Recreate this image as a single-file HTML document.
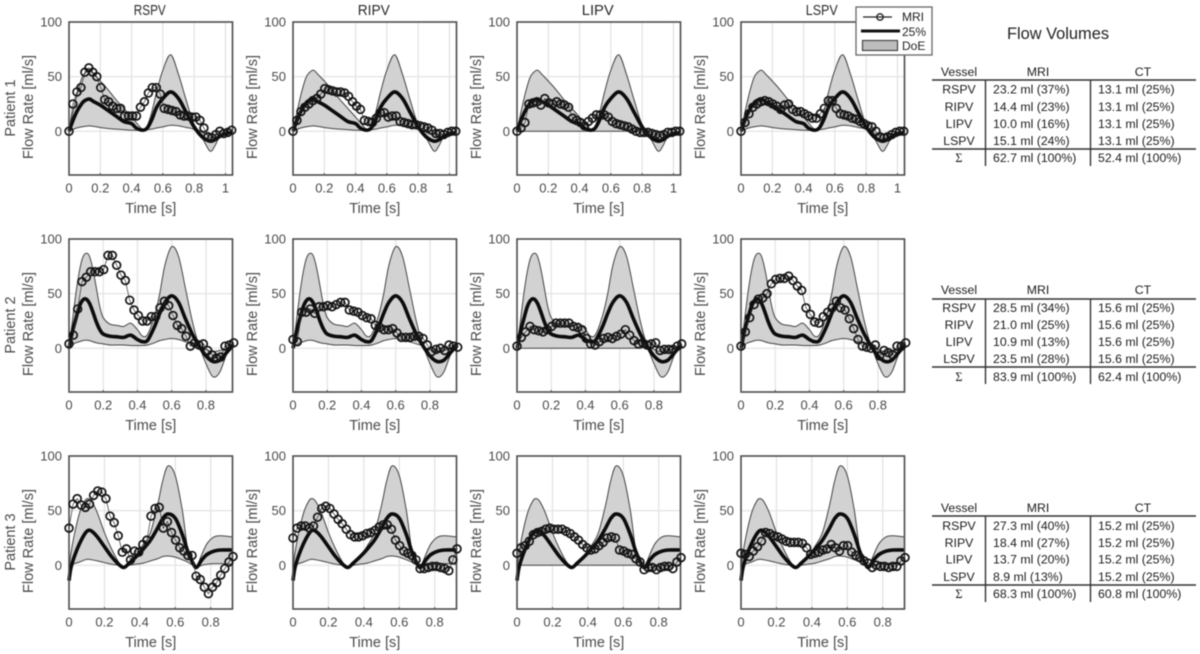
<!DOCTYPE html>
<html lang="en">
<head>
<meta charset="utf-8">
<title>Flow rate charts and flow volumes</title>
<style>
html,body{margin:0;padding:0;background:#fff;width:1200px;height:654px;overflow:hidden}
svg{display:block;filter:blur(0.5px);font-family:"Liberation Sans",sans-serif}
.tbl{font-size:12.3px;fill:#1c1c1c}
.mid{text-anchor:middle}
.rule{stroke:#333;stroke-width:1.4}
</style>
</head>
<body>
<svg id="figure" width="1200" height="654" viewBox="0 0 1200 654" xmlns="http://www.w3.org/2000/svg">
  <g id="plots"></g>

  <g>
    <rect x="856" y="7" width="76" height="48" fill="#fff" stroke="#666" stroke-width="1.3"/>
    <line x1="863" y1="17" x2="892" y2="17" stroke="#222" stroke-width="1.2"/>
    <circle cx="880" cy="17" r="3.2" fill="none" stroke="#222" stroke-width="1.4"/>
    <text x="902" y="21" font-size="12" fill="#222">MRI</text>
    <line x1="861" y1="31" x2="900" y2="31" stroke="#111" stroke-width="3"/>
    <text x="902" y="36" font-size="12" fill="#222">25%</text>
    <rect x="862.5" y="40.5" width="35" height="10" fill="#bdbdbd" stroke="#444" stroke-width="1.2"/>
    <text x="902" y="50" font-size="12" fill="#222">DoE</text>
  </g>

  <text x="1058" y="39" font-size="16.4" fill="#222" class="mid">Flow Volumes</text>

  <g>
    <text class="tbl mid" x="959" y="76">Vessel</text>
    <text class="tbl mid" x="1038" y="76">MRI</text>
    <text class="tbl mid" x="1143" y="76">CT</text>
    <line class="rule" x1="932" y1="80" x2="1196" y2="80"/>
    <line class="rule" x1="932" y1="149" x2="1196" y2="149"/>
    <line class="rule" x1="985.5" y1="80" x2="985.5" y2="166"/>
    <line class="rule" x1="1090.5" y1="80" x2="1090.5" y2="166"/>
    <text class="tbl mid" x="959" y="93.500">RSPV</text>
    <text class="tbl" x="993" y="93.500">23.2 ml (37%)</text>
    <text class="tbl" x="1098" y="93.500">13.1 ml (25%)</text>
    <text class="tbl mid" x="959" y="111">RIPV</text>
    <text class="tbl" x="993" y="111">14.4 ml (23%)</text>
    <text class="tbl" x="1098" y="111">13.1 ml (25%)</text>
    <text class="tbl mid" x="959" y="128">LIPV</text>
    <text class="tbl" x="993" y="128">10.0 ml (16%)</text>
    <text class="tbl" x="1098" y="128">13.1 ml (25%)</text>
    <text class="tbl mid" x="959" y="145">LSPV</text>
    <text class="tbl" x="993" y="145">15.1 ml (24%)</text>
    <text class="tbl" x="1098" y="145">13.1 ml (25%)</text>
    <text class="tbl mid" style="font-family:'Liberation Serif',serif" x="959" y="162">Σ</text>
    <text class="tbl" x="993" y="162">62.7 ml (100%)</text>
    <text class="tbl" x="1098" y="162">52.4 ml (100%)</text>
  </g>

  <g>
    <text class="tbl mid" x="959" y="294">Vessel</text>
    <text class="tbl mid" x="1038" y="294">MRI</text>
    <text class="tbl mid" x="1143" y="294">CT</text>
    <line class="rule" x1="932" y1="299" x2="1196" y2="299"/>
    <line class="rule" x1="932" y1="367" x2="1196" y2="367"/>
    <line class="rule" x1="985.5" y1="299" x2="985.5" y2="384"/>
    <line class="rule" x1="1090.5" y1="299" x2="1090.5" y2="384"/>
    <text class="tbl mid" x="959" y="312">RSPV</text>
    <text class="tbl" x="993" y="312">28.5 ml (34%)</text>
    <text class="tbl" x="1098" y="312">15.6 ml (25%)</text>
    <text class="tbl mid" x="959" y="329">RIPV</text>
    <text class="tbl" x="993" y="329">21.0 ml (25%)</text>
    <text class="tbl" x="1098" y="329">15.6 ml (25%)</text>
    <text class="tbl mid" x="959" y="346">LIPV</text>
    <text class="tbl" x="993" y="346">10.9 ml (13%)</text>
    <text class="tbl" x="1098" y="346">15.6 ml (25%)</text>
    <text class="tbl mid" x="959" y="363">LSPV</text>
    <text class="tbl" x="993" y="363">23.5 ml (28%)</text>
    <text class="tbl" x="1098" y="363">15.6 ml (25%)</text>
    <text class="tbl mid" style="font-family:'Liberation Serif',serif" x="959" y="381">Σ</text>
    <text class="tbl" x="993" y="381">83.9 ml (100%)</text>
    <text class="tbl" x="1098" y="381">62.4 ml (100%)</text>
  </g>

  <g>
    <text class="tbl mid" x="959" y="512">Vessel</text>
    <text class="tbl mid" x="1038" y="512">MRI</text>
    <text class="tbl mid" x="1143" y="512">CT</text>
    <line class="rule" x1="932" y1="516" x2="1196" y2="516"/>
    <line class="rule" x1="932" y1="585" x2="1196" y2="585"/>
    <line class="rule" x1="985.5" y1="516" x2="985.5" y2="602"/>
    <line class="rule" x1="1090.5" y1="516" x2="1090.5" y2="602"/>
    <text class="tbl mid" x="959" y="530">RSPV</text>
    <text class="tbl" x="993" y="530">27.3 ml (40%)</text>
    <text class="tbl" x="1098" y="530">15.2 ml (25%)</text>
    <text class="tbl mid" x="959" y="547">RIPV</text>
    <text class="tbl" x="993" y="547">18.4 ml (27%)</text>
    <text class="tbl" x="1098" y="547">15.2 ml (25%)</text>
    <text class="tbl mid" x="959" y="563.500">LIPV</text>
    <text class="tbl" x="993" y="563.500">13.7 ml (20%)</text>
    <text class="tbl" x="1098" y="563.500">15.2 ml (25%)</text>
    <text class="tbl mid" x="959" y="581">LSPV</text>
    <text class="tbl" x="993" y="581">8.9 ml (13%)</text>
    <text class="tbl" x="1098" y="581">15.2 ml (25%)</text>
    <text class="tbl mid" style="font-family:'Liberation Serif',serif" x="959" y="598">Σ</text>
    <text class="tbl" x="993" y="598">68.3 ml (100%)</text>
    <text class="tbl" x="1098" y="598">60.8 ml (100%)</text>
  </g>
</svg>

<script>
// ---- categories and tick labels ----
const vessels = ["RSPV", "RIPV", "LIPV", "LSPV"];
const patients = ["Patient 1", "Patient 2", "Patient 3"];
const yTicks = [0, 50, 100];
const xTicksP1 = [0, 0.2, 0.4, 0.6, 0.8, 1];
const xTicksP2 = [0, 0.2, 0.4, 0.6, 0.8];
const xTicksP3 = [0, 0.2, 0.4, 0.6, 0.8];
const xMaxByPatient = [1.045, 0.955, 0.923];
const mriEndByPatient = [1.04, 0.962, 0.926];

// ---- patient 1 simulated curves ----
const timeP1 = [0,.02,.05,.08,.1,.13,.16,.2,.25,.3,.35,.4,.43,.47,.5,.53,.56,.6,.65,.7,.75,.8,.85,.9,.93,.96,1,1.045];
const highP1 = [0,14,33,48,53,56,52,46,38,29,21,13,8,2,5,18,36,56,70,52,28,6,-1,-3,-3,-3,-2,-1];
const medP1  = [0,8,18,25,28,29.5,27,24,19,14,9,7,3,1,3,11,22,30,36,30,17,4,-5,-9,-8,-5,-2,-1];
const lowBumpP1 = [0,1.5,3,4,4.5,5,4.5,3.5,2.5,2,1.5,1,1,1,1.5,2,3,4,5.5,5,3.5,1.5,-6,-18,-14,-6,-3,-1];
const lowFlatP1 = [0,0,0,0,0,0,0,0,0,0,0,0,0,0,0,0,0,0,0,0,0,0,-6,-18,-14,-6,-3,-1];

// ---- patient 2 simulated curves ----
const timeP2 = [0,.02,.04,.06,.08,.1,.12,.14,.16,.18,.2,.24,.28,.32,.36,.4,.43,.46,.5,.53,.56,.6,.64,.68,.72,.76,.8,.84,.88,.92,.96];
const highP2 = [0,25,50,70,83,87,84,72,55,38,28,22,21,20,23,17,11,13,30,50,76,93,84,55,25,3,-1,-3,-2,0,5];
const medP2  = [0,15,27,38,44,45,41,33,24,17,13,11,10.5,10,12,8,6,7.5,20,32,42,48,42,27,13,2,-7,-12,-11,-4,3];
const lowBumpP2 = [0,3,5,6,7,7.5,7,6,5,4.5,4,3,3,3,2.5,2.5,2.5,3,5,7,8,9,8,6,4,1,-14,-26,-22,-6,3];
const lowFlatP2 = [0,0,0,0,0,0,0,0,0,0,0,0,0,0,0,0,0,0,0,0,0,0,0,0,0,0,-14,-26,-22,-6,3];

// ---- patient 3 simulated curves ----
const timeP3 = [0,.01,.03,.06,.09,.11,.13,.16,.2,.24,.28,.31,.34,.38,.42,.46,.5,.53,.56,.6,.64,.67,.7,.72,.75,.78,.82,.86,.92];
const highP3 = [-5,10,28,48,59,61,58,48,30,15,3,-2,2,8,18,30,55,78,91,82,50,15,3,-1,10,20,26,27,26];
const medP3  = [-14,-3,8,20,29,32,31,26,17,8,1,-2,2,8,15,23,34,43,47,43,28,13,2,-2,5,10,13,14,14];
const lowBumpP3 = [-15,0,1.5,3,5,5.5,5,4,2.5,1,0,-2,0,1,2,4,6,8,8.5,7.5,5,3,0,-2,0,1,1.5,1.5,1];
const lowFlatP3 = [-15,0,0,0,0,0,0,0,0,0,0,-2,0,0,0,0,0,0,0,0,0,0,0,-2,0,0,0,0,0];

// ---- MRI series, uniformly sampled over the cycle ----
const mriP1Rspv = [0,25,36,40,54,58,54,50,40,29,27,23,21,21,14,14,14,14,22,27,35,40,40,34,21,20,19,18,15,14,14,13,13,10,3,-5,-6,-3,0,-2,-1,1];
const mriP1Ripv = [0,10,18,22,25,28,30,34,39,38,37,36,36,35,32,27,23,20,10,9,8,12,17,17,13,14,14,9,8,7,6,6,5,4,3,1,-2,-2,-3,-1,0,0];
const mriP1Lipv = [0,3,8,25,26,27,24,30,26,25,27,25,24,22,12,10,8,5,9,12,15,15,15,13,9,7,6,5,4,2,0,-1,-1,-1,-2,-3,-4,-3,-1,-1,0,0];
const mriP1Lspv = [0,8,16,22,25,27,28,27,25,23,20,24,25,20,18,18,16,14,12,12,16,21,28,28,21,16,15,14,12,11,9,7,5,4,0,-5,-6,-5,-3,-1,0,0];
const mriP2Rspv = [4,12,36,61,65,70,70,70,72,85,85,76,67,62,44,35,30,25,25,29,29,37,43,39,30,21,18,11,2,5,3,4,-2,-6,-9,-8,2,3,5];
const mriP2Ripv = [8,6,33,33,36,32,38,38,39,38,40,42,42,35,34,33,30,28,27,21,19,17,17,18,14,10,10,10,11,11,9,3,-3,-1,0,-2,3,2,1];
const mriP2Lipv = [2,10,15,20,17,16,15,17,20,23,23,23,23,20,19,17,9,4,3,6,9,10,9,11,13,17,12,7,4,5,3,4,5,-2,-1,-1,-1,2,4];
const mriP2Lspv = [2,15,28,40,45,46,50,59,63,64,64,66,62,57,53,37,31,24,23,29,33,37,43,37,35,27,18,8,2,1,0,3,-7,-2,-4,-6,2,2,5];
const mriP3Rspv = [34,56,61,55,53,56,64,68,67,61,45,39,27,12,15,5,13,12,19,23,45,52,53,34,40,30,23,16,13,9,9,-10,-13,-20,-26,-20,-16,-9,-3,3,8];
const mriP3Ripv = [25,34,36,36,34,36,44,52,54,52,47,42,38,33,28,26,26,27,29,30,32,35,37,37,33,23,18,13,11,9,5,-3,-3,-2,-1,-1,-2,-3,-5,5,15];
const mriP3Lipv = [11,16,18,22,28,30,31,33,34,33,33,33,31,29,26,23,19,16,14,15,18,21,25,26,25,14,13,11,10,6,3,-4,-2,-2,-4,-2,-1,-1,-3,3,7];
const mriP3Lspv = [11,10,8,13,17,22,30,29,27,26,24,22,21,21,21,20,16,10,11,12,14,15,19,16,13,18,18,12,9,7,4,2,-2,0,-1,-1,-2,-1,-1,4,7];

// ---- series groupings ----
const timeByPatient = [timeP1, timeP2, timeP3];
const highByPatient = [highP1, highP2, highP3];
const medByPatient = [medP1, medP2, medP3];
const lowByPatient = [
  [lowBumpP1, lowBumpP1, lowFlatP1, lowBumpP1],
  [lowBumpP2, lowBumpP2, lowFlatP2, lowBumpP2],
  [lowBumpP3, lowBumpP3, lowFlatP3, lowBumpP3]
];
const mriByPatient = [
  [mriP1Rspv, mriP1Ripv, mriP1Lipv, mriP1Lspv],
  [mriP2Rspv, mriP2Ripv, mriP2Lipv, mriP2Lspv],
  [mriP3Rspv, mriP3Ripv, mriP3Lipv, mriP3Lspv]
];
const xTicksByPatient = [xTicksP1, xTicksP2, xTicksP3];

// ---- layout ----
const NS = "http://www.w3.org/2000/svg";
const colLeft = [69, 293, 517, 741];
const rowTop = [22, 239, 456];
const plotW = 163.5, plotH = 153, yMin = -40, yMax = 100;
const root = document.getElementById("plots");

function make(parent, tag, attrs) {
  const el = document.createElementNS(NS, tag);
  for (const k in attrs) el.setAttribute(k, attrs[k]);
  parent.appendChild(el);
  return el;
}
function smooth(pts, cont) {
  let d = (cont ? "L" : "M") + pts[0][0].toFixed(2) + " " + pts[0][1].toFixed(2);
  for (let i = 0; i < pts.length - 1; i++) {
    const p0 = pts[Math.max(i - 1, 0)], p1 = pts[i], p2 = pts[i + 1], p3 = pts[Math.min(i + 2, pts.length - 1)];
    const c1x = p1[0] + (p2[0] - p0[0]) / 6, c1y = p1[1] + (p2[1] - p0[1]) / 6;
    const c2x = p2[0] - (p3[0] - p1[0]) / 6, c2y = p2[1] - (p3[1] - p1[1]) / 6;
    d += "C" + c1x.toFixed(2) + " " + c1y.toFixed(2) + " " + c2x.toFixed(2) + " " + c2y.toFixed(2) + " " + p2[0].toFixed(2) + " " + p2[1].toFixed(2);
  }
  return d;
}

patients.forEach(function (patient, r) {
  vessels.forEach(function (vessel, c) {
    const left = colLeft[c], top = rowTop[r], xMax = xMaxByPatient[r];
    const sx = function (t) { return left + t / xMax * plotW; };
    const sy = function (v) { return top + (yMax - v) / (yMax - yMin) * plotH; };
    const g = make(root, "g", {});
    
    

    // gridlines
    xTicksByPatient[r].forEach(function (t) {
      if (t > 0) {
        const gl = make(g, "line", { x1: sx(t), x2: sx(t), y1: top, y2: top + plotH, stroke: "#e4e4e4", "stroke-width": 1.3 });
        
        
      }
    });
    yTicks.forEach(function (v) {
      if (v < yMax) {
        const gl = make(g, "line", { x1: left, x2: left + plotW, y1: sy(v), y2: sy(v), stroke: "#e4e4e4", "stroke-width": 1.3 });
        
        
      }
    });

    const times = timeByPatient[r], high = highByPatient[r], med = medByPatient[r], low = lowByPatient[r][c];
    const highPts = times.map(function (t, i) { return [sx(t), sy(high[i])]; });
    const lowPts = times.map(function (t, i) { return [sx(t), sy(low[i])]; });
    const medPts = times.map(function (t, i) { return [sx(t), sy(med[i])]; });

    const band = make(g, "path", { d: smooth(highPts) + smooth(lowPts.slice().reverse(), true) + "Z", fill: "#d2d2d2", stroke: "none" });
    
    

    const highLine = make(g, "path", { d: smooth(highPts), fill: "none", stroke: "#444", "stroke-width": 1 });
    
    

    const lowLine = make(g, "path", { d: smooth(lowPts), fill: "none", stroke: "#444", "stroke-width": 1 });
    
    

    const medLine = make(g, "path", { d: smooth(medPts), fill: "none", stroke: "#0c0c0c", "stroke-width": 3.6, "stroke-linejoin": "round" });
    
    

    // axes box and ticks
    const box = make(g, "rect", { x: left, y: top, width: plotW, height: plotH, fill: "none", stroke: "#4c4c4c", "stroke-width": 1.6 });
    
    

    xTicksByPatient[r].forEach(function (t) {
      const lab = make(g, "text", { x: sx(t), y: top + plotH + 17.5, "font-size": 13, fill: "#4a4a4a", "text-anchor": "middle" });
      lab.textContent = String(t);
      
      
      const tk = make(g, "line", { x1: sx(t), x2: sx(t), y1: top + plotH, y2: top + plotH - 2, stroke: "#555", "stroke-width": 1 });
      
      
    });
    yTicks.forEach(function (v) {
      const lab = make(g, "text", { x: left - 7, y: sy(v) + 4.5, "font-size": 13, fill: "#4a4a4a", "text-anchor": "end" });
      lab.textContent = String(v);
      
      
    });

    // MRI series
    const mri = mriByPatient[r][c], end = mriEndByPatient[r];
    const mriPts = mri.map(function (v, i) { return [sx(i * end / (mri.length - 1)), sy(v)]; });
    const mriLine = make(g, "polyline", { points: mriPts.map(function (p) { return p[0].toFixed(2) + "," + p[1].toFixed(2); }).join(" "), fill: "none", stroke: "#333", "stroke-width": 0.7 });
    
    
    mriPts.forEach(function (p) {
      const dot = make(g, "circle", { cx: p[0], cy: p[1], r: 3.9, fill: "none", stroke: "#141414", "stroke-width": 1.7 });
      
      
    });

    // axis titles
    const xt = make(g, "text", { x: left + plotW / 2, y: top + plotH + 38, "font-size": 14.5, fill: "#4a4a4a", "text-anchor": "middle" });
    xt.textContent = "Time [s]";
    
    

    const yx = left - 36, yy = top + 85;
    const yt = make(g, "text", { x: yx, y: yy, "font-size": 14.5, fill: "#4a4a4a", "text-anchor": "middle", transform: "rotate(-90 " + yx + " " + yy + ")" });
    yt.textContent = "Flow Rate [ml/s]";
    
    

    if (r === 0) {
      const tt = make(g, "text", { x: left + plotW / 2 - 1, y: 15, "font-size": 15, fill: "#2a2a2a", "text-anchor": "middle", textLength: 32, lengthAdjust: "spacingAndGlyphs" });
      tt.textContent = vessel;
      
      
    }
    if (c === 0) {
      const px = 15, py = top + 86;
      const pl = make(g, "text", { x: px, y: py, "font-size": 14.5, fill: "#4a4a4a", "text-anchor": "middle", transform: "rotate(-90 " + px + " " + py + ")" });
      pl.textContent = patient;
      
      
    }
  });
});
</script>
</body>
</html>
